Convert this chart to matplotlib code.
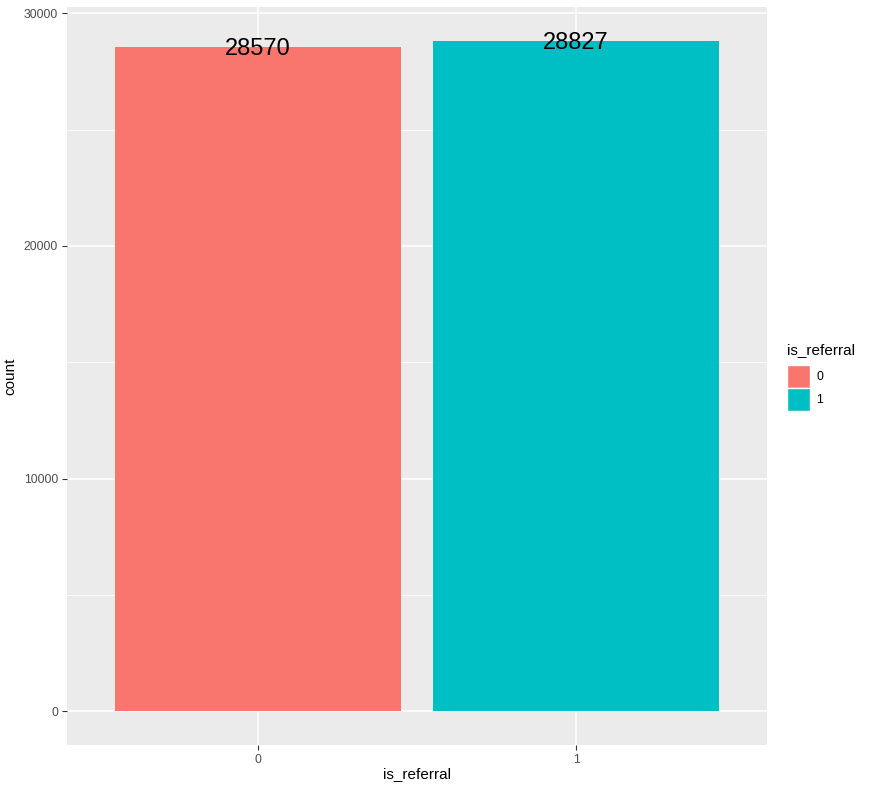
import matplotlib
matplotlib.use("Agg")
from matplotlib import pyplot as plt
from matplotlib.patches import Patch

# data
categories = ["0", "1"]
counts = [28570, 28827]
colors = ["#F8766D", "#00BFC4"]

plt.rcParams['font.family'] = ['Liberation Sans', 'DejaVu Sans']

fig = plt.figure(figsize=(8.69, 7.9), dpi=100)
W, H = 869, 790
# panel position in pixels: x 67..767, y 7..745
ax = fig.add_axes([67 / W, (H - 745) / H, 700 / W, 738 / H])
ax.set_facecolor("#EBEBEB")

xpos = list(range(len(categories)))
ax.bar(xpos, counts, width=0.9, color=colors, zorder=3)

# count labels centred on bar tops
for x, c in zip(xpos, counts):
    ax.text(x, c, str(c), ha="center", va="center_baseline", fontsize=17, color="black", zorder=4)

ax.set_ylim(-0.05 * max(counts), 1.05 * max(counts))
ax.set_xlim(-0.6, 1.6)

ax.set_xticks(xpos)
ax.set_xticklabels(categories)
ax.set_yticks([0, 10000, 20000, 30000])
ax.set_yticks([5000, 15000, 25000], minor=True)
ax.set_xticks([], minor=True)

ax.grid(True, which="major", color="white", linewidth=1.1, zorder=0)
ax.grid(True, which="minor", axis="y", color="white", linewidth=0.55, zorder=0)
ax.set_axisbelow(True)

for s in ax.spines.values():
    s.set_visible(False)

ax.tick_params(axis="both", which="major", colors="#333333", length=3.5, width=0.8,
               labelsize=8.8, labelcolor="#4D4D4D", pad=3)
ax.tick_params(axis="both", which="minor", length=0)

ax.set_xlabel("is_referral", fontsize=11, color="black", labelpad=1)
ax.set_ylabel("count", fontsize=11, color="black")
ax.yaxis.set_label_coords(-50 / 700, 0.5)

handles = [Patch(facecolor=c, edgecolor="white", label=l) for c, l in zip(colors, categories)]
leg = fig.legend(handles=handles, title="is_referral", loc="upper left",
                 bbox_to_anchor=(782 / W, (H - 338) / H), frameon=False,
                 fontsize=8.8, title_fontsize=11, handlelength=1.9, handleheight=2.5,
                 handletextpad=0.5, labelspacing=0.0, borderaxespad=0)
leg._legend_box.align = "left"
leg._legend_box.sep = 6

fig.savefig("out.png", dpi=100)
